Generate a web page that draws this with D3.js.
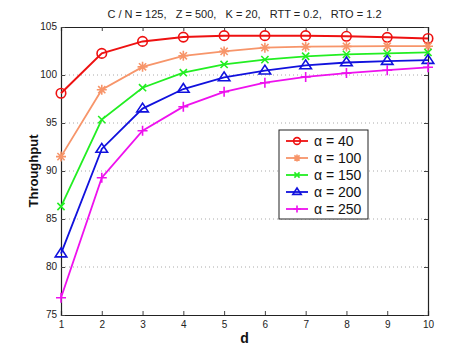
<!DOCTYPE html>
<html>
<head>
<meta charset="utf-8">
<script src="https://cdn.jsdelivr.net/npm/d3@7"></script>
<style>
  html, body { margin: 0; padding: 0; background: #fff; }
  svg { display: block; font-family: "Liberation Sans", Arial, sans-serif; }
  text { white-space: pre; }
</style>
</head>
<body>
<svg id="chart" width="474" height="355"></svg>
<script>
const dValues = [1, 2, 3, 4, 5, 6, 7, 8, 9, 10];
const alpha40  = [98.1, 102.25, 103.5, 103.95, 104.1, 104.1, 104.1, 104.03, 103.92, 103.8];
const alpha100 = [91.5, 98.47, 100.85, 102.0, 102.46, 102.85, 102.95, 102.98, 103.0, 103.0];
const alpha150 = [86.3, 95.35, 98.68, 100.24, 101.1, 101.6, 101.95, 102.15, 102.25, 102.35];
const alpha200 = [81.4, 92.3, 96.5, 98.54, 99.75, 100.45, 101.0, 101.3, 101.45, 101.55];
const alpha250 = [76.8, 89.3, 94.2, 96.7, 98.25, 99.2, 99.8, 100.2, 100.5, 100.8];
const seriesNames = ["α = 40", "α = 100", "α = 150", "α = 200", "α = 250"];
const xTicks = [1, 2, 3, 4, 5, 6, 7, 8, 9, 10];
const yTicks = [75, 80, 85, 90, 95, 100, 105];
const titleText = "C / N = 125,   Z = 500,   K = 20,   RTT = 0.2,   RTO = 1.2";
const xLabel = "d";
const yLabel = "Throughput";

const seriesData = [alpha40, alpha100, alpha150, alpha200, alpha250];
const colors = ["#ee1111", "#f7956a", "#22ee22", "#1111dd", "#ee11ee"];
const markers = ["circle", "asterisk", "x", "triangle", "plus"];

const svg = d3.select("#chart");
const L = 61, R = 428, T = 27, B = 315;
const x = d3.scaleLinear().domain([1, 10]).range([L, R]);
const y = d3.scaleLinear().domain([75, 105]).range([B, T]);

// grid (horizontal dotted)
svg.append("g").selectAll("line").data(yTicks.filter(v => v > 75 && v < 105)).join("line")
  .attr("x1", L).attr("x2", R)
  .attr("y1", d => y(d)).attr("y2", d => y(d))
  .attr("stroke", "#aaa").attr("stroke-width", 1).attr("stroke-dasharray", "1,3");

// axes with inward ticks
const axB = svg.append("g").attr("transform", `translate(0,${B})`)
  .call(d3.axisBottom(x).tickValues(xTicks).tickSize(-4).tickPadding(6).tickFormat(d3.format("d")));
const axT = svg.append("g").attr("transform", `translate(0,${T})`)
  .call(d3.axisTop(x).tickValues(xTicks).tickSize(-4).tickFormat(""));
const axL = svg.append("g").attr("transform", `translate(${L},0)`)
  .call(d3.axisLeft(y).tickValues(yTicks).tickSize(-4).tickPadding(4).tickFormat(d3.format("d")));
const axR = svg.append("g").attr("transform", `translate(${R},0)`)
  .call(d3.axisRight(y).tickValues(yTicks).tickSize(-4).tickFormat(""));
[axB, axT, axL, axR].forEach(a => {
  a.select(".domain").attr("stroke", "#222").attr("stroke-width", 1.2);
  a.selectAll(".tick line").attr("stroke", "#444");
  a.selectAll("text").attr("font-size", 10).attr("fill", "#222")
    .attr("font-family", "Liberation Sans, Arial, sans-serif");
});
axL.selectAll("text").attr("dy", "0.2em");

function drawMarker(g, type, cx, cy, color, s) {
  const mk = g.append("g").attr("transform", `translate(${cx},${cy})`)
    .attr("fill", "none").attr("stroke", color).attr("stroke-width", 1.6);
  if (type === "circle") {
    mk.append("circle").attr("r", s * 0.95);
  } else if (type === "triangle") {
    const h = s * 1.1;
    mk.append("path").attr("d", `M0,${-h} L${h * 1.05},${h * 0.6} L${-h * 1.05},${h * 0.6} Z`);
  } else if (type === "plus") {
    mk.append("path").attr("d", `M${-s},0 H${s} M0,${-s} V${s}`);
  } else if (type === "x") {
    const k = s * 0.72;
    mk.append("path").attr("d", `M${-k},${-k} L${k},${k} M${-k},${k} L${k},${-k}`);
  } else if (type === "asterisk") {
    const k = s * 0.72;
    mk.append("path").attr("d", `M${-s},0 H${s} M0,${-s} V${s} M${-k},${-k} L${k},${k} M${-k},${k} L${k},${-k}`);
  }
}

const line = d3.line().x((d, i) => x(dValues[i])).y(d => y(d));
seriesData.forEach((vals, si) => {
  const g = svg.append("g");
  g.append("path").datum(vals).attr("d", line)
    .attr("fill", "none").attr("stroke", colors[si]).attr("stroke-width", si === 0 ? 2 : 1.8);
  vals.forEach((v, i) => drawMarker(g, markers[si], x(dValues[i]), y(v), colors[si], 5));
});

// title
svg.append("text").attr("x", (L + R) / 2).attr("y", 18).attr("text-anchor", "middle")
  .attr("font-size", 11).attr("fill", "#222").text(titleText);
// axis labels
svg.append("text").attr("x", (L + R) / 2).attr("y", 343).attr("text-anchor", "middle")
  .attr("font-size", 14).attr("font-weight", "bold").attr("fill", "#111").text(xLabel);
svg.append("text").attr("transform", `translate(38,${(T + B) / 2}) rotate(-90)`)
  .attr("text-anchor", "middle").attr("font-size", 13).attr("font-weight", "bold")
  .attr("fill", "#111").text(yLabel);

// legend
const lg = svg.append("g");
lg.append("rect").attr("x", 279).attr("y", 130).attr("width", 89).attr("height", 89)
  .attr("fill", "#fff").attr("stroke", "#222").attr("stroke-width", 1);
seriesNames.forEach((name, i) => {
  const ly = 141 + i * 17;
  lg.append("line").attr("x1", 286).attr("x2", 308).attr("y1", ly).attr("y2", ly)
    .attr("stroke", colors[i]).attr("stroke-width", 1.8);
  drawMarker(lg, markers[i], 297, ly, colors[i], 3.6);
  lg.append("text").attr("x", 314).attr("y", ly + 5).attr("font-size", 14)
    .attr("fill", "#111").text(name);
});
</script>
</body>
</html>
